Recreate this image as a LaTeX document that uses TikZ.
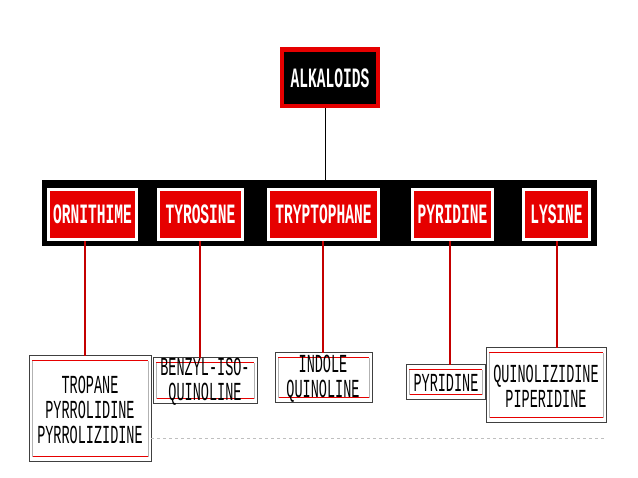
\documentclass[tikz,border=0pt]{standalone}
\usepackage{fontspec}
\newfontfamily\cond[FakeStretch=0.52]{Liberation Mono}
\definecolor{myred}{RGB}{230,0,0}
\begin{document}
\begin{tikzpicture}[x=1pt,y=-1pt,
 hdr/.style={draw=white,line width=3pt,fill=myred,text=white,font=\cond\bfseries\fontsize{28}{28}\selectfont,inner sep=0pt,anchor=north west},
 lf/.style={font=\cond\fontsize{26}{25}\selectfont,align=center},
 conn/.style={myred!85!black,line width=1.2pt}]
\useasboundingbox (0,0) rectangle (638,478);
% top
\fill[myred] (280,47) rectangle (380,108);
\fill[black] (284,52) rectangle (376,104);
\node[text=white,font=\cond\bfseries\fontsize{28}{28}\selectfont] (alk) at (330,78) {ALKALOIDS};
\coordinate (alkb) at (325,108);
% band
\fill[black] (42,180) rectangle (597,246);
\coordinate (bandt) at (325,180);
\draw[line width=1pt] (alkb) -- (bandt);
\node[hdr,minimum width=88pt,minimum height=50pt] (orn) at (47,188) {ORNITHIME};
\node[hdr,minimum width=84pt,minimum height=50pt] (tyr) at (157,188) {TYROSINE};
\node[hdr,minimum width=110pt,minimum height=50pt] (try) at (267,188) {TRYPTOPHANE};
\node[hdr,minimum width=80pt,minimum height=50pt] (pyr) at (411,188) {PYRIDINE};
\node[hdr,minimum width=66pt,minimum height=50pt] (lys) at (522,188) {LYSINE};
% leaves
\foreach \n/\x/\y/\w/\h in {l1/29/356/122/106, l2/153/358/104/46, l3/275/353/97/50, l4/406/365/79/35, l5/486/348/120/75}{
  \draw[line width=1pt,black!75] (\x,\y) rectangle ++(\w,\h);
  \draw[myred,line width=1pt] (\x+3,\y+5) -- ++(\w-6,0);
  \draw[myred,line width=1pt] (\x+3,\y+\h-5) -- ++(\w-6,0);
  \draw[gray!60,line width=0.5pt] (\x+3,\y+5) -- ++(0,\h-10) (\x+\w-3,\y+5) -- ++(0,\h-10);
}
\node[lf] (t1) at (90,410) {TROPANE\\PYRROLIDINE\\PYRROLIZIDINE};
\node[lf] (t2) at (205,382) {BENZYL-ISO-\\QUINOLINE};
\node[lf] (t3) at (323,379) {INDOLE\\QUINOLINE};
\node[lf] (t4) at (446,383) {PYRIDINE};
\node[lf] (t5) at (546,386) {QUINOLIZIDINE\\PIPERIDINE};
\coordinate (b1) at (85,356); \coordinate (b2) at (200,358); \coordinate (b3) at (323,353);
\coordinate (b4) at (450,365); \coordinate (b5) at (557,348);
\draw[conn] (orn.south -| b1) -- (b1);
\draw[conn] (tyr.south -| b2) -- (b2);
\draw[conn] (try.south -| b3) -- (b3);
\draw[conn] (pyr.south -| b4) -- (b4);
\draw[conn] (lys.south -| b5) -- (b5);
\draw[gray!50,dashed,line width=0.5pt] (151,438) -- (606,438);
\end{tikzpicture}
\end{document}
